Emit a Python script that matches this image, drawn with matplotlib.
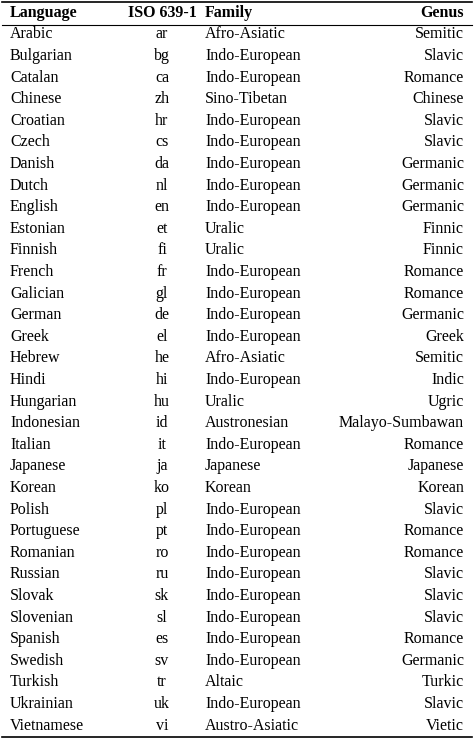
import matplotlib.pyplot as plt

languages = ["Arabic", "Bulgarian", "Catalan", "Chinese", "Croatian", "Czech", "Danish", "Dutch",
             "English", "Estonian", "Finnish", "French", "Galician", "German", "Greek", "Hebrew",
             "Hindi", "Hungarian", "Indonesian", "Italian", "Japanese", "Korean", "Polish",
             "Portuguese", "Romanian", "Russian", "Slovak", "Slovenian", "Spanish", "Swedish",
             "Turkish", "Ukrainian", "Vietnamese"]
iso_codes = ["ar", "bg", "ca", "zh", "hr", "cs", "da", "nl", "en", "et", "fi", "fr", "gl", "de",
             "el", "he", "hi", "hu", "id", "it", "ja", "ko", "pl", "pt", "ro", "ru", "sk", "sl",
             "es", "sv", "tr", "uk", "vi"]
families = ["Afro-Asiatic", "Indo-European", "Indo-European", "Sino-Tibetan", "Indo-European",
            "Indo-European", "Indo-European", "Indo-European", "Indo-European", "Uralic", "Uralic",
            "Indo-European", "Indo-European", "Indo-European", "Indo-European", "Afro-Asiatic",
            "Indo-European", "Uralic", "Austronesian", "Indo-European", "Japanese", "Korean",
            "Indo-European", "Indo-European", "Indo-European", "Indo-European", "Indo-European",
            "Indo-European", "Indo-European", "Indo-European", "Altaic", "Indo-European",
            "Austro-Asiatic"]
genera = ["Semitic", "Slavic", "Romance", "Chinese", "Slavic", "Slavic", "Germanic", "Germanic",
          "Germanic", "Finnic", "Finnic", "Romance", "Romance", "Germanic", "Greek", "Semitic",
          "Indic", "Ugric", "Malayo-Sumbawan", "Romance", "Japanese", "Korean", "Slavic", "Romance",
          "Romance", "Slavic", "Slavic", "Slavic", "Romance", "Germanic", "Turkic", "Slavic", "Vietic"]
headers = ["Language", "ISO 639-1", "Family", "Genus"]

W, H = 474, 739
fig = plt.figure(figsize=(W / 100, H / 100), dpi=100)
ax = fig.add_axes([0, 0, 1, 1])
ax.set_xlim(0, W)
ax.set_ylim(H, 0)
ax.axis("off")

font = dict(family="Liberation Serif", fontsize=11.5, va="center")
col_x = [10, 162, 205, 464]
col_ha = ["left", "center", "left", "right"]

# header
for x, ha, h in zip(col_x, col_ha, headers):
    ax.text(x, 13, h, ha=ha, fontweight="bold", **font)

ax.plot([2, 472], [2, 2], color="black", lw=1.2)
ax.plot([2, 472], [24.5, 24.5], color="black", lw=0.8)
ax.plot([2, 472], [737, 737], color="black", lw=1.2)

y0, dy = 34.5, 21.6
for i, row in enumerate(zip(languages, iso_codes, families, genera)):
    y = y0 + i * dy
    for x, ha, val in zip(col_x, col_ha, row):
        ax.text(x, y, val, ha=ha, **font)

fig.savefig("out.png", dpi=100)
